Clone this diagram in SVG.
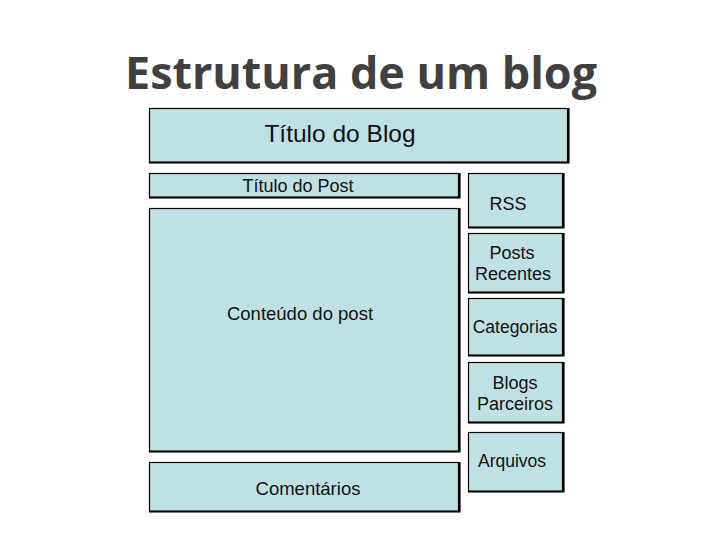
<svg xmlns="http://www.w3.org/2000/svg" width="728" height="546" viewBox="0 0 728 546">
<style>
.box{fill:#c0e1e4;stroke:#000;stroke-width:1.2}
.sh{fill:none;stroke:#000;stroke-width:2.2}
.t{font-family:"Liberation Sans",Arial,sans-serif;font-size:18.5px;fill:#111;text-anchor:middle}
.s{font-size:18px}
.h{font-family:"Open Sans","Liberation Sans",sans-serif;font-weight:bold;font-size:44px;fill:#404040;text-anchor:middle}
</style>
<rect width="728" height="546" fill="#fff"/>
<text class="h" x="361" y="89" textLength="472" lengthAdjust="spacingAndGlyphs">Estrutura de um blog</text>
<g id="titulo-blog">
<rect class="box" x="149.5" y="108.5" width="418" height="54"/>
<path class="sh" d="M149 162.5H568.5V108"/>
<text class="t" x="340" y="142" style="font-size:24.5px">Título do Blog</text>
</g>
<g id="titulo-post">
<rect class="box" x="149.5" y="173.5" width="309" height="24"/>
<path class="sh" d="M149 197.5H459.5V173"/>
<text class="t" x="298" y="192" style="font-size:18px">Título do Post</text>
</g>
<g id="conteudo">
<rect class="box" x="149.5" y="208.5" width="309" height="243"/>
<path class="sh" d="M149 451.5H459.5V208"/>
<text class="t" x="300" y="320">Conteúdo do post</text>
</g>
<g id="comentarios">
<rect class="box" x="149.5" y="462.5" width="309" height="49"/>
<path class="sh" d="M149 511.5H459.5V462"/>
<text class="t" x="308" y="495">Comentários</text>
</g>
<g id="rss">
<rect class="box" x="468.5" y="173.5" width="94" height="54"/>
<path class="sh" d="M468 227.5H563.5V173"/>
<text class="t s" x="508" y="210">RSS</text>
</g>
<g id="posts-recentes">
<rect class="box" x="468.5" y="233.5" width="94" height="59"/>
<path class="sh" d="M468 292.5H563.5V233"/>
<text class="t s" x="512" y="259">Posts</text>
<text class="t s" x="513" y="280">Recentes</text>
</g>
<g id="categorias">
<rect class="box" x="468.5" y="298.5" width="94" height="57"/>
<path class="sh" d="M468 355.5H563.5V298"/>
<text class="t" x="515" y="333" style="font-size:17.5px">Categorias</text>
</g>
<g id="blogs-parceiros">
<rect class="box" x="468.5" y="362.5" width="94" height="60"/>
<path class="sh" d="M468 422.5H563.5V362"/>
<text class="t s" x="515" y="389">Blogs</text>
<text class="t s" x="515" y="410">Parceiros</text>
</g>
<g id="arquivos">
<rect class="box" x="468.5" y="432.5" width="94" height="59"/>
<path class="sh" d="M468 491.5H563.5V432"/>
<text class="t" x="512" y="467" style="font-size:17.5px">Arquivos</text>
</g>
<g id="connectors"></g>
</svg>
